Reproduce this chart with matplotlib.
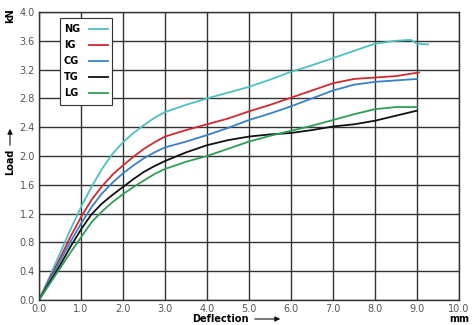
import matplotlib
matplotlib.use("Agg")
import matplotlib.pyplot as plt
from matplotlib.patches import FancyArrowPatch, Rectangle
from matplotlib.lines import Line2D

# ---- data ----
series_names = ["NG", "IG", "CG", "TG", "LG"]
series_colors = ["#4fc0c0", "#d02a30", "#3a80c8", "#111111", "#2f9e55"]

x_common = [0, 0.25, 0.5, 0.75, 1.0, 1.25, 1.5, 1.75, 2.0, 2.25, 2.5, 2.75,
            3.0, 3.5, 4.0, 4.5, 5.0, 5.5, 6.0, 6.5, 7.0, 7.5, 8.0, 8.5, 9.0]

ng_x = x_common[:-1] + [8.75, 8.87, 8.99, 9.27]
ng_y = [0, 0.32, 0.65, 0.98, 1.29, 1.57, 1.82, 2.03, 2.19, 2.32, 2.43, 2.53,
        2.61, 2.71, 2.80, 2.88, 2.96, 3.06, 3.17, 3.26, 3.36, 3.46, 3.56, 3.60,
        3.61, 3.61, 3.56, 3.55]

ig_x = x_common[:-1] + [9.05]
ig_y = [0, 0.29, 0.58, 0.88, 1.15, 1.39, 1.58, 1.74, 1.87, 1.99, 2.10, 2.19,
        2.27, 2.36, 2.44, 2.52, 2.62, 2.71, 2.81, 2.91, 3.01, 3.07, 3.09, 3.11,
        3.16]

cg_x = x_common
cg_y = [0, 0.27, 0.54, 0.81, 1.06, 1.29, 1.48, 1.63, 1.76, 1.87, 1.97, 2.05,
        2.12, 2.20, 2.29, 2.39, 2.50, 2.59, 2.69, 2.80, 2.91, 2.99, 3.03, 3.05,
        3.07]

tg_x = x_common
tg_y = [0, 0.24, 0.48, 0.74, 0.98, 1.19, 1.34, 1.46, 1.57, 1.68, 1.78, 1.86,
        1.93, 2.05, 2.15, 2.22, 2.27, 2.30, 2.32, 2.36, 2.41, 2.44, 2.49, 2.56,
        2.63]

lg_x = x_common
lg_y = [0, 0.22, 0.44, 0.66, 0.87, 1.08, 1.23, 1.36, 1.47, 1.57, 1.66, 1.75,
        1.82, 1.92, 2.00, 2.10, 2.20, 2.28, 2.35, 2.42, 2.50, 2.58, 2.65, 2.68,
        2.68]

x_ticks = [0.0, 1.0, 2.0, 3.0, 4.0, 5.0, 6.0, 7.0, 8.0, 9.0, 10.0]
y_ticks = [0.0, 0.4, 0.8, 1.2, 1.6, 2.0, 2.4, 2.8, 3.2, 3.6, 4.0]

# ---- figure ----
W, H = 474, 325
fig = plt.figure(figsize=(W / 100, H / 100), dpi=100)
ax = fig.add_axes([39 / W, 1 - 300 / H, 420 / W, 288 / H])

all_x = [ng_x, ig_x, cg_x, tg_x, lg_x]
all_y = [ng_y, ig_y, cg_y, tg_y, lg_y]
for xs, ys, name, col in zip(all_x, all_y, series_names, series_colors):
    ax.plot(xs, ys, color=col, lw=1.3, label=name, solid_capstyle="round",
            solid_joinstyle="round")

ax.set_xlim(0, 10)
ax.set_ylim(0, 4)
ax.set_xticks(x_ticks)
ax.set_xticklabels([f"{v:.1f}" for v in x_ticks])
ax.set_yticks(y_ticks)
ax.set_yticklabels([f"{v:.1f}" for v in y_ticks])
ax.tick_params(length=0, labelsize=7, labelcolor="#555555", pad=3)
ax.grid(True, color="#333333", lw=1.0)
ax.set_axisbelow(True)
for s in ax.spines.values():
    s.set_color("#333333")
    s.set_linewidth(1.0)

# legend box (labels left-aligned, line sample to the right)
ax.add_patch(Rectangle((0.05, 0.677), 0.124, 0.302, transform=ax.transAxes,
                       facecolor="white", edgecolor="#333333", lw=0.8, zorder=5))
for i, (name, col) in enumerate(zip(series_names, series_colors)):
    yy = 0.941 - i * 0.0555
    ax.text(0.0595, yy, name, transform=ax.transAxes, fontsize=7,
            fontweight="bold", ha="left", va="center", zorder=6)
    ax.add_line(Line2D([0.119, 0.164], [yy, yy], transform=ax.transAxes,
                       color=col, lw=1.3, zorder=6))

# axis texts
fig.text(10 / W, 1 - 16 / H, "kN", rotation=90, fontsize=7, fontweight="bold",
         ha="center", va="center")
fig.text(10 / W, 1 - 162 / H, "Load", rotation=90, fontsize=7, fontweight="bold",
         ha="center", va="center")
fig.add_artist(FancyArrowPatch(
    (10 / W, 1 - 148 / H), (10 / W, 1 - 126 / H), transform=fig.transFigure,
    arrowstyle="-|>,head_length=3,head_width=1.5", lw=0.8, color="#111111"))
fig.text(220 / W, 1 - 319 / H, "Deflection", fontsize=7, fontweight="bold",
         ha="center", va="center")
fig.add_artist(FancyArrowPatch(
    (252 / W, 1 - 319 / H), (283 / W, 1 - 319 / H), transform=fig.transFigure,
    arrowstyle="-|>,head_length=3,head_width=1.5", lw=0.8, color="#111111"))
fig.text(459 / W, 1 - 319 / H, "mm", fontsize=7, fontweight="bold",
         ha="center", va="center")

fig.savefig("out.png", dpi=100)
